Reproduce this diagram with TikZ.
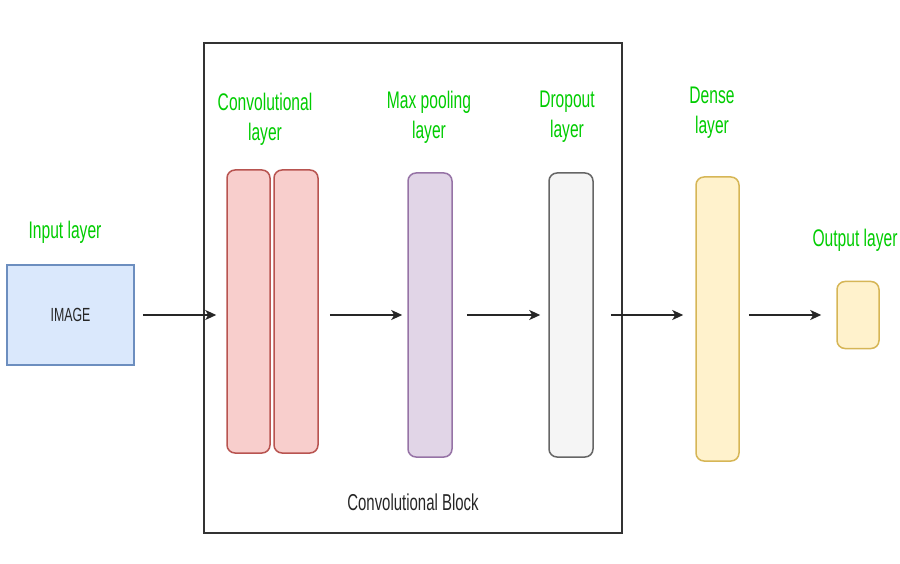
\documentclass[tikz,border=0pt]{standalone}
\usepackage{fontspec}
\setmainfont{Liberation Sans}
\newfontfamily\narrowfont[FakeStretch=0.65]{Liberation Sans}
\usetikzlibrary{arrows.meta}
\definecolor{labgreen}{HTML}{00CC00}
\definecolor{imgfill}{HTML}{DAE8FC}\definecolor{imgdraw}{HTML}{6C8EBF}
\definecolor{convfill}{HTML}{F8CECC}\definecolor{convdraw}{HTML}{B85450}
\definecolor{poolfill}{HTML}{E1D5E7}\definecolor{pooldraw}{HTML}{9673A6}
\definecolor{dropfill}{HTML}{F5F5F5}\definecolor{dropdraw}{HTML}{666666}
\definecolor{densefill}{HTML}{FFF2CC}\definecolor{densedraw}{HTML}{D6B656}
\tikzset{
  lbl/.style={text=labgreen, font=\narrowfont\fontsize{24}{30}\selectfont, align=center},
  layerbox/.style={draw, line width=1.5pt, rounded corners=8pt, inner sep=0pt},
  arr/.style={draw=black!85, line width=1.6pt, -{Stealth[length=11pt,width=10pt,inset=3pt]}}
}
\begin{document}
\begin{tikzpicture}[x=1pt,y=-1pt]
\useasboundingbox (0,0) rectangle (900,564);
\node[draw=black!80, line width=1.5pt, minimum width=418pt, minimum height=490pt, inner sep=0pt] (block) at (413,288) {};
\node[font=\narrowfont\fontsize{23}{27}\selectfont, text=black!85] (blocktxt) at (413,502) {Convolutional Block};
\node[draw=imgdraw, fill=imgfill, line width=1.5pt, minimum width=127pt, minimum height=100pt, inner sep=0pt, font=\narrowfont\fontsize{19}{22}\selectfont, text=black!85] (img) at (70.5,315) {IMAGE};
\node[layerbox, draw=convdraw, fill=convfill, minimum width=43pt, minimum height=283pt] (convA) at (248.5,311.5) {};
\node[layerbox, draw=convdraw, fill=convfill, minimum width=44pt, minimum height=283pt] (convB) at (296,311.5) {};
\node[layerbox, draw=pooldraw, fill=poolfill, minimum width=44pt, minimum height=284pt] (pool) at (430,315) {};
\node[layerbox, draw=dropdraw, fill=dropfill, minimum width=44pt, minimum height=284pt] (drop) at (571,315) {};
\node[layerbox, draw=densedraw, fill=densefill, minimum width=43pt, minimum height=284pt] (dense) at (717.5,319) {};
\node[layerbox, draw=densedraw, fill=densefill, minimum width=42pt, minimum height=67pt] (out) at (858,315) {};
\node[lbl] (imglbl) at (65,232) {Input layer};
\node[lbl] (convlbl) at (265,119) {Convolutional\\layer};
\node[lbl] (poollbl) at (429,117) {Max pooling\\layer};
\node[lbl] (droplbl) at (567,117) {Dropout\\layer};
\node[lbl] (denselbl) at (712,113) {Dense\\layer};
\node[lbl] (outlbl) at (855,240) {Output layer};
\draw[arr, shorten <=8pt, shorten >=10pt] (img.east) -- (convA.west |- img.east);
\draw[arr, shorten <=11pt, shorten >=5pt] (convB.east |- img.east) -- (pool.west |- img.east);
\draw[arr, shorten <=14pt, shorten >=8pt] (pool.east) -- (drop.west);
\draw[arr, shorten <=17pt, shorten >=12pt] (drop.east) -- (dense.west |- drop.east);
\draw[arr, shorten <=9pt, shorten >=15pt] (dense.east |- out.west) -- (out.west);
\end{tikzpicture}
\end{document}
